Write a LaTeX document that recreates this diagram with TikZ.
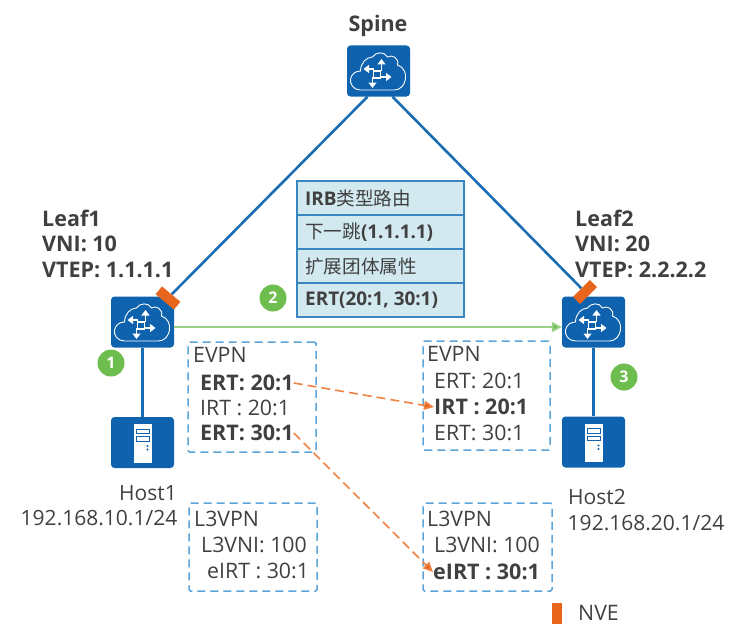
\documentclass[tikz,border=0pt]{standalone}
\usepackage{fontspec}
\setmainfont{Open Sans}
\newfontfamily\cjk{Noto Sans CJK SC}
\usetikzlibrary{arrows.meta,backgrounds}
\definecolor{devblue}{HTML}{0F62AE}
\definecolor{linkblue}{HTML}{1B6DB3}
\definecolor{dashblue}{HTML}{5DA5D8}
\definecolor{tabfill}{HTML}{D2E9F0}
\definecolor{tabline}{HTML}{3A86C0}
\definecolor{txt}{HTML}{404040}
\definecolor{nveor}{HTML}{E8661C}
\definecolor{arror}{HTML}{EF8242}
\definecolor{numg}{HTML}{6DBD4F}
\definecolor{arrg}{HTML}{9BD184}
\tikzset{
  x=1pt,y=-1pt,
  dev/.style={rectangle,rounded corners=3.5pt,fill=devblue,minimum width=63pt,minimum height=51pt,inner sep=0pt},
  link/.style={draw=linkblue,line width=2.6pt},
  nve/.style={rectangle,fill=nveor,minimum width=24pt,minimum height=10pt,inner sep=0pt},
  num/.style={circle,fill=numg,minimum size=27pt,inner sep=0pt,text=white,font=\fontsize{16}{16}\selectfont\bfseries},
  lab/.style={anchor=west,inner sep=0pt,text=txt,font=\fontsize{21.3}{24}\selectfont},
  blab/.style={lab,font=\fontsize{21.5}{24}\selectfont\bfseries},
  hdr/.style={lab,font=\fontsize{21.5}{24}\selectfont\bfseries},
  plain/.style={lab,anchor=center,font=\fontsize{21}{24}\selectfont},
  dbox/.style={draw=dashblue,line width=1.5pt,dash pattern=on 8pt off 5pt,rounded corners=1.5pt},
  tab/.style={rectangle,draw=tabline,fill=tabfill,line width=1.4pt,minimum width=167pt,minimum height=34pt,inner sep=0pt},
  tabt/.style={anchor=west,inner sep=0pt,text=txt,font=\fontsize{18.9}{20}\selectfont\bfseries},
  oarr/.style={draw=arror,line width=1.6pt,dash pattern=on 9pt off 5pt,-{Triangle[length=10pt,width=9pt,fill=nveor]}},
  cloudicon/.pic={
    \draw[white,line width=.9pt,line join=round]
      (-18,19) .. controls (-25,19) and (-29,13) .. (-28,8)
      .. controls (-27,3) and (-23,0) .. (-18,0)
      .. controls (-18,-8) and (-12,-14) .. (-6,-14)
      .. controls (-3,-19) and (6,-20) .. (9,-14)
      .. controls (13,-17) and (21,-13) .. (19,-6)
      .. controls (25,-4) and (28,2) .. (27,8)
      .. controls (26,14) and (22,19) .. (16,19) -- cycle;
    \draw[white,line width=1.2pt] (-5,0) rectangle (2,7);
    \begin{scope}[white,line width=1.9pt,-{Triangle[length=5.5pt,width=8pt]}]
      \draw (-5,-2) -- (-15,-2);
      \draw (2,6) -- (13,6);
      \draw (3,0) -- (3,-12);
      \draw (-6,6) -- (-6,17);
    \end{scope}
  },
  servicon/.pic={
    \fill[white] (-9,-18.5) rectangle (9,20);
    \draw[devblue,line width=.8pt,fill=white] (-6.5,-13.5) rectangle (6.5,-9);
    \draw[devblue,line width=.8pt,fill=white] (-6.5,-6) rectangle (6.5,-1.5);
    \fill[devblue] (5,3.5) circle (1.2) (5,7) circle (1.2);
  }
}
\newcommand{\cjkpart}[1]{{\cjk\mdseries\fontsize{18.6}{20}\selectfont #1}}
\begin{document}
\begin{tikzpicture}
\useasboundingbox (0,0) rectangle (741,634);
% devices
\node[dev] (spine) at (378.5,71) {};
\node[dev] (leaf1) at (142.5,322) {};
\node[dev] (leaf2) at (593.5,322) {};
\node[dev] (host1) at (142.5,442.5) {};
\node[dev] (host2) at (593.5,442) {};
\pic at (spine) {cloudicon};
\pic at (leaf1) {cloudicon};
\pic at (leaf2) {cloudicon};
\pic at (host1) {servicon};
\pic at (host2) {servicon};
% NVE markers
\node[nve,rotate=-40] (nve1) at (168,298) {};
\node[nve,rotate=45] (nve2) at (585,292) {};
\begin{pgfonlayer}{background}
\draw[link] ([xshift=-11pt]spine.south) -- (nve1);
\draw[link] ([xshift=14pt]spine.south) -- (nve2);
\draw[link] (leaf1) -- (host1);
\draw[link] (leaf2) -- (host2);
\end{pgfonlayer}
% labels
\node[hdr,anchor=center] (lspine) at (378,26) {Spine};
\node[hdr] (l1a) at (42,218) {Leaf1};
\node[hdr] (l1b) at (42,244) {VNI: 10};
\node[hdr] (l1c) at (42,270) {VTEP: 1.1.1.1};
\node[hdr] (l2a) at (575,218) {Leaf2};
\node[hdr] (l2b) at (575,244) {VNI: 20};
\node[hdr] (l2c) at (575,270) {VTEP: 2.2.2.2};
\node[plain] (h1a) at (148,493) {Host1};
\node[plain] (h1b) at (99,518) {192.168.10.1/24};
\node[plain] (h2a) at (597,497) {Host2};
\node[plain] (h2b) at (646,523) {192.168.20.1/24};
% table
\node[tab] (t1) at (380.5,198) {};
\node[tab] (t2) at (380.5,232) {};
\node[tab] (t3) at (380.5,266) {};
\node[tab] (t4) at (380.5,300) {};
\node[tabt] (tt1) at (305,198) {IRB\cjkpart{类型路由}};
\node[tabt] (tt2) at (305,232) {\cjkpart{下一跳}(1.1.1.1)};
\node[tabt] (tt3) at (305,266) {\cjkpart{扩展团体属性}};
\node[tabt] (tt4) at (305,300) {ERT(20:1, 30:1)};
% numbers
\node[num] (n1) at (111,363) {1};
\node[num] (n2) at (273,298) {2};
\node[num] (n3) at (624,377) {3};
% dashed boxes
\node[dbox,minimum width=128pt,minimum height=110pt,inner sep=0pt] (b1) at (252,397) {};
\node[dbox,minimum width=127pt,minimum height=109pt,inner sep=0pt] (b2) at (486.5,395.5) {};
\node[dbox,minimum width=128pt,minimum height=88pt,inner sep=0pt] (b3) at (253,547) {};
\node[dbox,minimum width=129pt,minimum height=88pt,inner sep=0pt] (b4) at (487.5,547) {};
% box texts
\node[lab] (e1) at (193,355) {EVPN};
\node[blab] (a1) at (200,383) {ERT: 20:1};
\node[lab] (a2) at (200,408) {IRT : 20:1};
\node[blab] (a3) at (200,433) {ERT: 30:1};
\node[lab] (e2) at (427,354) {EVPN};
\node[lab] (c1) at (434,381) {ERT: 20:1};
\node[blab] (c2) at (434,407) {IRT : 20:1};
\node[lab] (c3) at (434,433) {ERT: 30:1};
\node[lab] (e3) at (194,519) {L3VPN};
\node[lab] (d1) at (201,545) {L3VNI: 100};
\node[lab] (d2) at (207,571) {eIRT : 30:1};
\node[lab] (e4) at (427,519) {L3VPN};
\node[lab] (f1) at (434,545) {L3VNI: 100};
\node[blab] (f2) at (433,572) {eIRT : 30:1};
% connectors
\draw[draw=arrg,line width=1.8pt,-{Triangle[length=10pt,width=10pt,fill=numg]}] ([yshift=-5pt]leaf1.east) -- ([yshift=-5pt]leaf2.west);
\draw[oarr] (a1.east) -- (c2.west);
\draw[oarr] (a3.east) -- (f2.west);
% legend
\node[rectangle,fill=nveor,minimum width=10pt,minimum height=21pt,inner sep=0pt] (leg) at (557,613.5) {};
\node[lab] (legt) at (578,613) {NVE};
\end{tikzpicture}
\end{document}
